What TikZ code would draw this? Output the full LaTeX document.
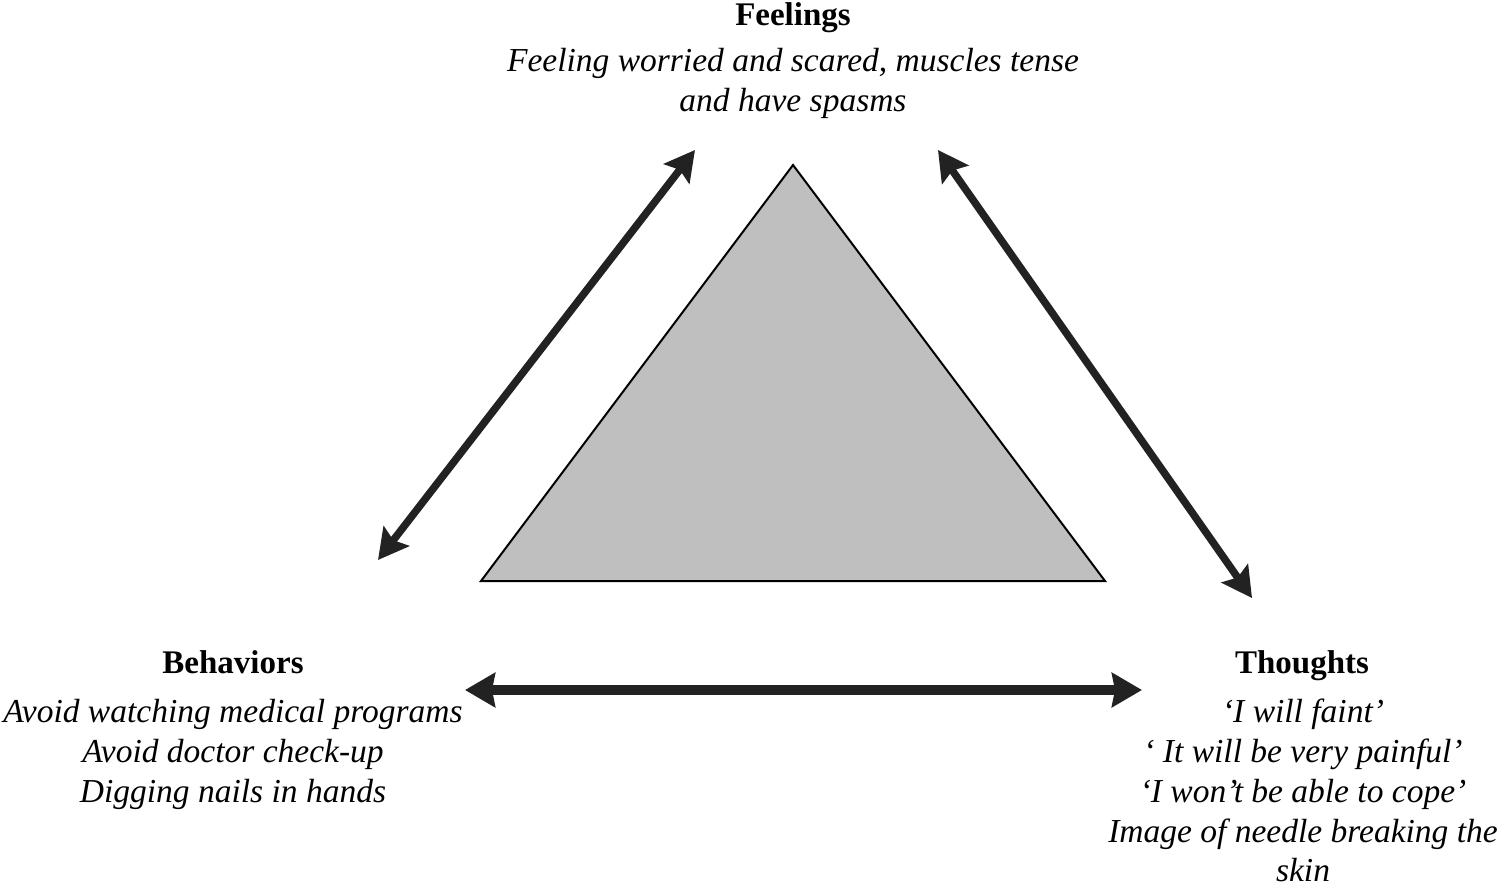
\documentclass[tikz,border=0pt]{standalone}
\usepackage{fontspec}
\setmainfont{Liberation Serif}
\usetikzlibrary{arrows.meta}
\definecolor{arrowc}{HTML}{222222}
\definecolor{trifill}{HTML}{BFBFBF}
\tikzset{
  title/.style={font=\fontsize{33}{40}\selectfont\bfseries, anchor=base, inner sep=0pt},
  body/.style={font=\fontsize{33.5}{40}\selectfont\itshape, anchor=base, inner sep=0pt},
  diagarrow/.style={draw=arrowc, line width=7.5pt, {Stealth[length=30pt,width=32pt,inset=5pt]}-{Stealth[length=30pt,width=32pt,inset=5pt]}},
  horarrow/.style={draw=arrowc, line width=10pt, {Stealth[length=30pt,width=34pt,inset=3pt]}-{Stealth[length=30pt,width=34pt,inset=3pt]}},
}
\begin{document}
\begin{tikzpicture}[x=1pt,y=-1pt]
\useasboundingbox (0,0) rectangle (1501,884);
% triangle
\draw[fill=trifill, draw=black, line width=2pt, line join=miter] (793,165) -- (1105,581) -- (481,581) -- cycle;
% text
\node[title] (feel) at (793,25) {Feelings};
\node[body] (feel1) at (793,71) {Feeling worried and scared, muscles tense};
\node[body] (feel2) at (793,111) {and have spasms};
\node[title] (beh) at (233,673) {Behaviors};
\node[body] (beh1) at (233,722) {Avoid watching medical programs};
\node[body] (beh2) at (233,762) {Avoid doctor check-up};
\node[body] (beh3) at (233,802) {Digging nails in hands};
\node[title] (tho) at (1302,673) {Thoughts};
\node[body] (tho1) at (1303,722) {‘I will faint’};
\node[body] (tho2) at (1303,762) {‘ It will be very painful’};
\node[body] (tho3) at (1303,802) {‘I won’t be able to cope’};
\node[body] (tho4) at (1303,842) {Image of needle breaking the};
\node[body] (tho5) at (1303,881) {skin};
% arrow endpoints
\coordinate (lb) at (378,560);
\coordinate (lt) at (695,150);
\coordinate (rt) at (938,150);
\coordinate (rb) at (1252,598);
\coordinate (hl) at (465,690);
\coordinate (hr) at (1142,690);
\draw[diagarrow] (lb) -- (lt);
\draw[diagarrow] (rt) -- (rb);
\draw[horarrow] (hl) -- (hr);
\end{tikzpicture}
\end{document}
